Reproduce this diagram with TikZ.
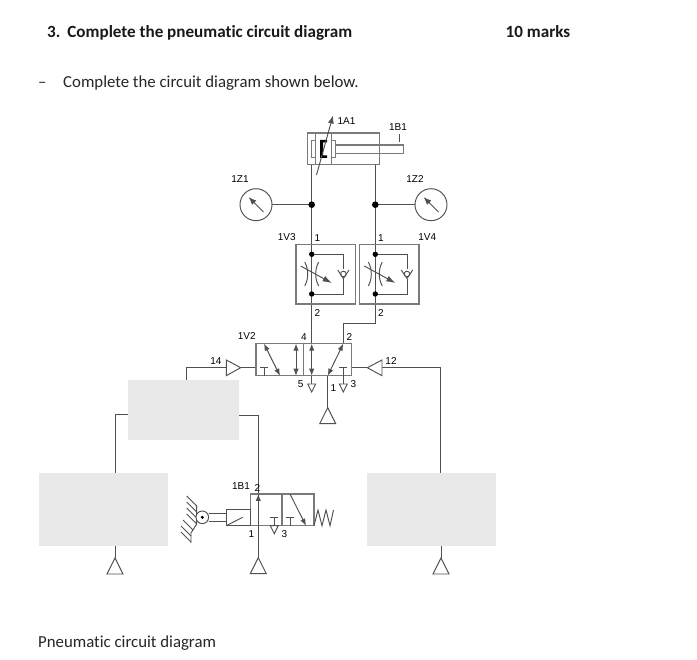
\documentclass[tikz,border=0pt]{standalone}
\usepackage{fontspec}
\setmainfont{Carlito}[RawFeature=-liga]
\newfontfamily\arial{Liberation Sans}
\usetikzlibrary{arrows.meta}
\definecolor{ln}{HTML}{505050}
\definecolor{fr}{HTML}{7A7A7A}
\definecolor{gbox}{HTML}{E9E9E9}
\tikzset{
  x=1pt,y=-1pt,
  wire/.style={draw=ln,line width=0.95pt},
  frame/.style={draw=fr,line width=1.2pt},
  lab/.style={font=\arial\fontsize{10}{11}\selectfont,text=black,inner sep=0pt},
  head/.style={font=\fontsize{17.1}{18}\selectfont\bfseries,text=black!90,inner sep=0pt,anchor=base west},
  body/.style={font=\fontsize{16.8}{18}\selectfont,text=black!85,inner sep=0pt,anchor=base west},
  dot/.style={circle,fill=black,inner sep=0pt,minimum size=6.6pt},
  smalldot/.style={circle,fill=black,inner sep=0pt,minimum size=5.4pt},
  tip/.style={-{Latex[length=7pt,width=5.4pt]},wire},
  tips/.style={{Latex[length=7pt,width=5.4pt]}-{Latex[length=7pt,width=5.4pt]},wire},
  graybox/.style={fill=gbox,draw=none},
  gauge/.style={circle,draw=ln,line width=0.95pt,minimum size=32pt,inner sep=0pt,fill=white},
}
\newcommand{\supply}[2]{\draw[wire,line join=miter,fill=white] (#1,#2) -- (#1-8,#2+16) -- (#1+8,#2+16) -- cycle;}
\newcommand{\exhaust}[2]{\draw[wire,fill=white] (#1-4,#2) -- (#1+4,#2) -- (#1,#2+8) -- cycle;}
\newcommand{\teesym}[3]{\draw[wire] (#1-4,#2) -- (#1+4,#2) (#1,#2) -- (#1,#3);}
\newcommand{\flowvalve}[1]{%
  \begin{scope}[shift={(#1,0)}]
    \draw[wire] (0,254.3) -- (31.7,254.3) -- (31.7,269.5);
    \draw[wire] (0,294) -- (31.7,294) -- (31.7,279);
    \draw[wire] (-7,262) .. controls (-3,269) and (-3,279) .. (-7,286);
    \draw[wire] (7,262) .. controls (3,269) and (3,279) .. (7,286);
    \draw[tip,-{Latex[length=9pt,width=6pt]}] (-11,266) -- (20,283);
    \draw[wire,fill=white] (31.7,274) circle (2.8);
    \draw[wire] (26,270) -- (31.7,278.5) -- (37.4,270);
    \node[smalldot] at (0,254.3) {};
    \node[smalldot] at (0,294) {};
  \end{scope}}
\begin{document}
\begin{tikzpicture}
\useasboundingbox (0,0) rectangle (697,660);
\fill[white] (0,0) rectangle (697,660);
% texts
\node[head] (t1) at (47,38) {3.\hspace{7pt}Complete the pneumatic circuit diagram};
\node[head] (t2) at (505.5,38) {10 marks};
\node[body] (t3) at (38,87.5) {–};
\node[body] (t4) at (63,87.5) {Complete the circuit diagram shown below.};
\node[body] (t5) at (38,647) {Pneumatic circuit diagram};
% gray boxes
\node[graybox,minimum width=111pt,minimum height=60pt,inner sep=0pt] (g1) at (183.5,410) {};
\node[graybox,minimum width=129pt,minimum height=73pt,inner sep=0pt] (g2) at (103.5,509.5) {};
\node[graybox,minimum width=129pt,minimum height=73pt,inner sep=0pt] (g3) at (431.5,509.5) {};
% wires
\draw[wire] (311.7,164.7) -- (311.7,244.3);
\draw[wire] (375.3,164.7) -- (375.3,244.3);
\draw[wire] (311.7,204.7) -- (240,204.7);
\draw[wire] (375.3,204.7) -- (447,204.7);
\draw[wire] (311.7,244.3) -- (311.7,343.7);
\draw[wire] (375.3,244.3) -- (375.3,323.3) -- (343.3,323.3) -- (343.3,343.7);
\draw[wire] (226.3,367.7) -- (186.7,367.7) -- (186.7,380);
\draw[wire] (240.7,367.7) -- (256,367.7);
\draw[wire] (128,414) -- (115,414) -- (115,473);
\draw[wire] (239,415) -- (258.3,415) -- (258.3,494);
\draw[wire] (351.7,367.7) -- (367.3,367.7);
\draw[wire] (382,367.7) -- (440.7,367.7) -- (440.7,473);
\draw[wire] (115,546) -- (115,558);
\draw[wire] (441,546) -- (441,558);
% cylinder
\draw[frame] (307.7,133) rectangle (379.3,164.7);
\draw[frame] (315.7,133) -- (315.7,164.7) (331.3,133) -- (331.3,164.7);
\draw[frame,line width=0.9pt] (311.7,140.7) rectangle (315.7,157.3);
\draw[frame,line width=0.9pt] (331.3,140.7) rectangle (335.7,157.3);
\draw[frame] (335.7,145) -- (403.3,145) -- (403.3,153.3) -- (335.7,153.3);
\fill[black] (320,140) -- (327,140) -- (327,142.5) -- (323,142.5) -- (323,155.5) -- (327,155.5) -- (327,158) -- (320,158) -- cycle;
\draw[tip,-{Latex[length=8pt,width=6pt]}] (316.5,175) -- (333,115.5);
\draw[wire] (399.5,134.5) -- (399.5,142);
\node[lab] (l1a1) at (346.5,121) {1A1};
\node[lab] (l1b1) at (398,127) {1B1};
% gauges
\node[gauge] (z1) at (256,204.7) {};
\node[gauge] (z2) at (431,204.7) {};
\draw[tip,-{Latex[length=8pt,width=6pt]}] (263.5,212) -- (248.5,197);
\draw[tip,-{Latex[length=8pt,width=6pt]}] (438.5,212) -- (423.5,197);
\node[dot] (j1) at (311.7,204.7) {};
\node[dot] (j2) at (375.3,204.7) {};
\node[lab] (lz1) at (240,179) {1Z1};
\node[lab] (lz2) at (415,179) {1Z2};
% flow control
\draw[frame] (296,244.3) rectangle (355.3,304);
\draw[frame] (359.3,244.3) rectangle (419,304);
\flowvalve{311.7}
\flowvalve{375.3}
\node[lab] (lv3) at (286.7,236.7) {1V3};
\node[lab] (lv4) at (427.3,236.7) {1V4};
\node[lab] at (317.3,238) {1};
\node[lab] at (381,238) {1};
\node[lab] at (317.3,313.5) {2};
\node[lab] at (381,313.5) {2};
% 5/2 valve
\draw[frame] (256,343.7) rectangle (351.7,375.7);
\draw[frame] (303.3,343.7) -- (303.3,375.7);
\draw[tips] (264,343.7) -- (280,375.7);
\draw[tips] (296,343.7) -- (296,375.7);
\draw[tips] (311.7,343.7) -- (311.7,375.7);
\draw[tips] (343.3,343.7) -- (327.7,375.7);
\teesym{264}{367.7}{375.7}
\teesym{343.3}{367.7}{384}
\draw[wire] (311.7,375.7) -- (311.7,384);
\exhaust{311.7}{384}
\exhaust{343.3}{384}
\draw[wire] (327.7,375.7) -- (327.7,407.7);
\supply{327.7}{407.7}
\draw[wire,fill=white] (226.3,360) -- (240.7,367.7) -- (226.3,375.7) -- cycle;
\draw[wire,fill=white] (382,360) -- (367.3,367.7) -- (382,375.7) -- cycle;
\node[lab] (lv2) at (246.7,335.7) {1V2};
\node[lab] at (216,361) {14};
\node[lab] at (391,361) {12};
\node[lab] at (304,337.3) {4};
\node[lab] at (349.3,337.3) {2};
\node[lab] at (300.7,384.3) {5};
\node[lab] at (333.3,388.3) {1};
\node[lab] at (353.3,384.3) {3};
% 3/2 valve
\draw[frame] (250.3,494) rectangle (314,525.7);
\draw[frame] (282,494) -- (282,525.7);
\draw[wire] (258.3,494) -- (258.3,557.7);
\draw[tip] (258.3,505) -- (258.3,494);
\draw[tip] (290,494) -- (306,525.7);
\teesym{274.3}{517.3}{525.7}
\teesym{290}{517.3}{525.7}
\exhaust{274.3}{525.7}
\supply{258.3}{557.7}
\supply{115}{558}
\supply{441}{558}
\draw[wire] (226.3,509.3) rectangle (250.3,525.7);
\draw[wire] (226.3,525.7) -- (242.7,517.3);
\draw[wire] (208.7,513.3) -- (226.3,513.3) (208.7,521.7) -- (226.3,521.7);
\draw[wire] (314,525.7) -- (318,510) -- (322,525.7) -- (326,510) -- (330,525.7) -- (333.5,510);
\draw[wire] (196.7,505) -- (196.7,524) -- (191,533) -- (191,543);
\foreach \yy/\xx in {506/196.7,512/196.7,518/196.7,524/196.7,530/193,536/191,542/191}{
  \draw[wire] (\xx,\yy) -- ++(-10,-10);
}
\draw[wire,fill=white] (202.3,517.3) circle (6.3);
\fill[black] (202.3,517.3) circle (1.7);
\node[lab] (lb1) at (241,486) {1B1};
\node[lab] at (257.3,487.7) {2};
\node[lab] at (251.3,534.3) {1};
\node[lab] at (284.3,534.3) {3};
\end{tikzpicture}
\end{document}
